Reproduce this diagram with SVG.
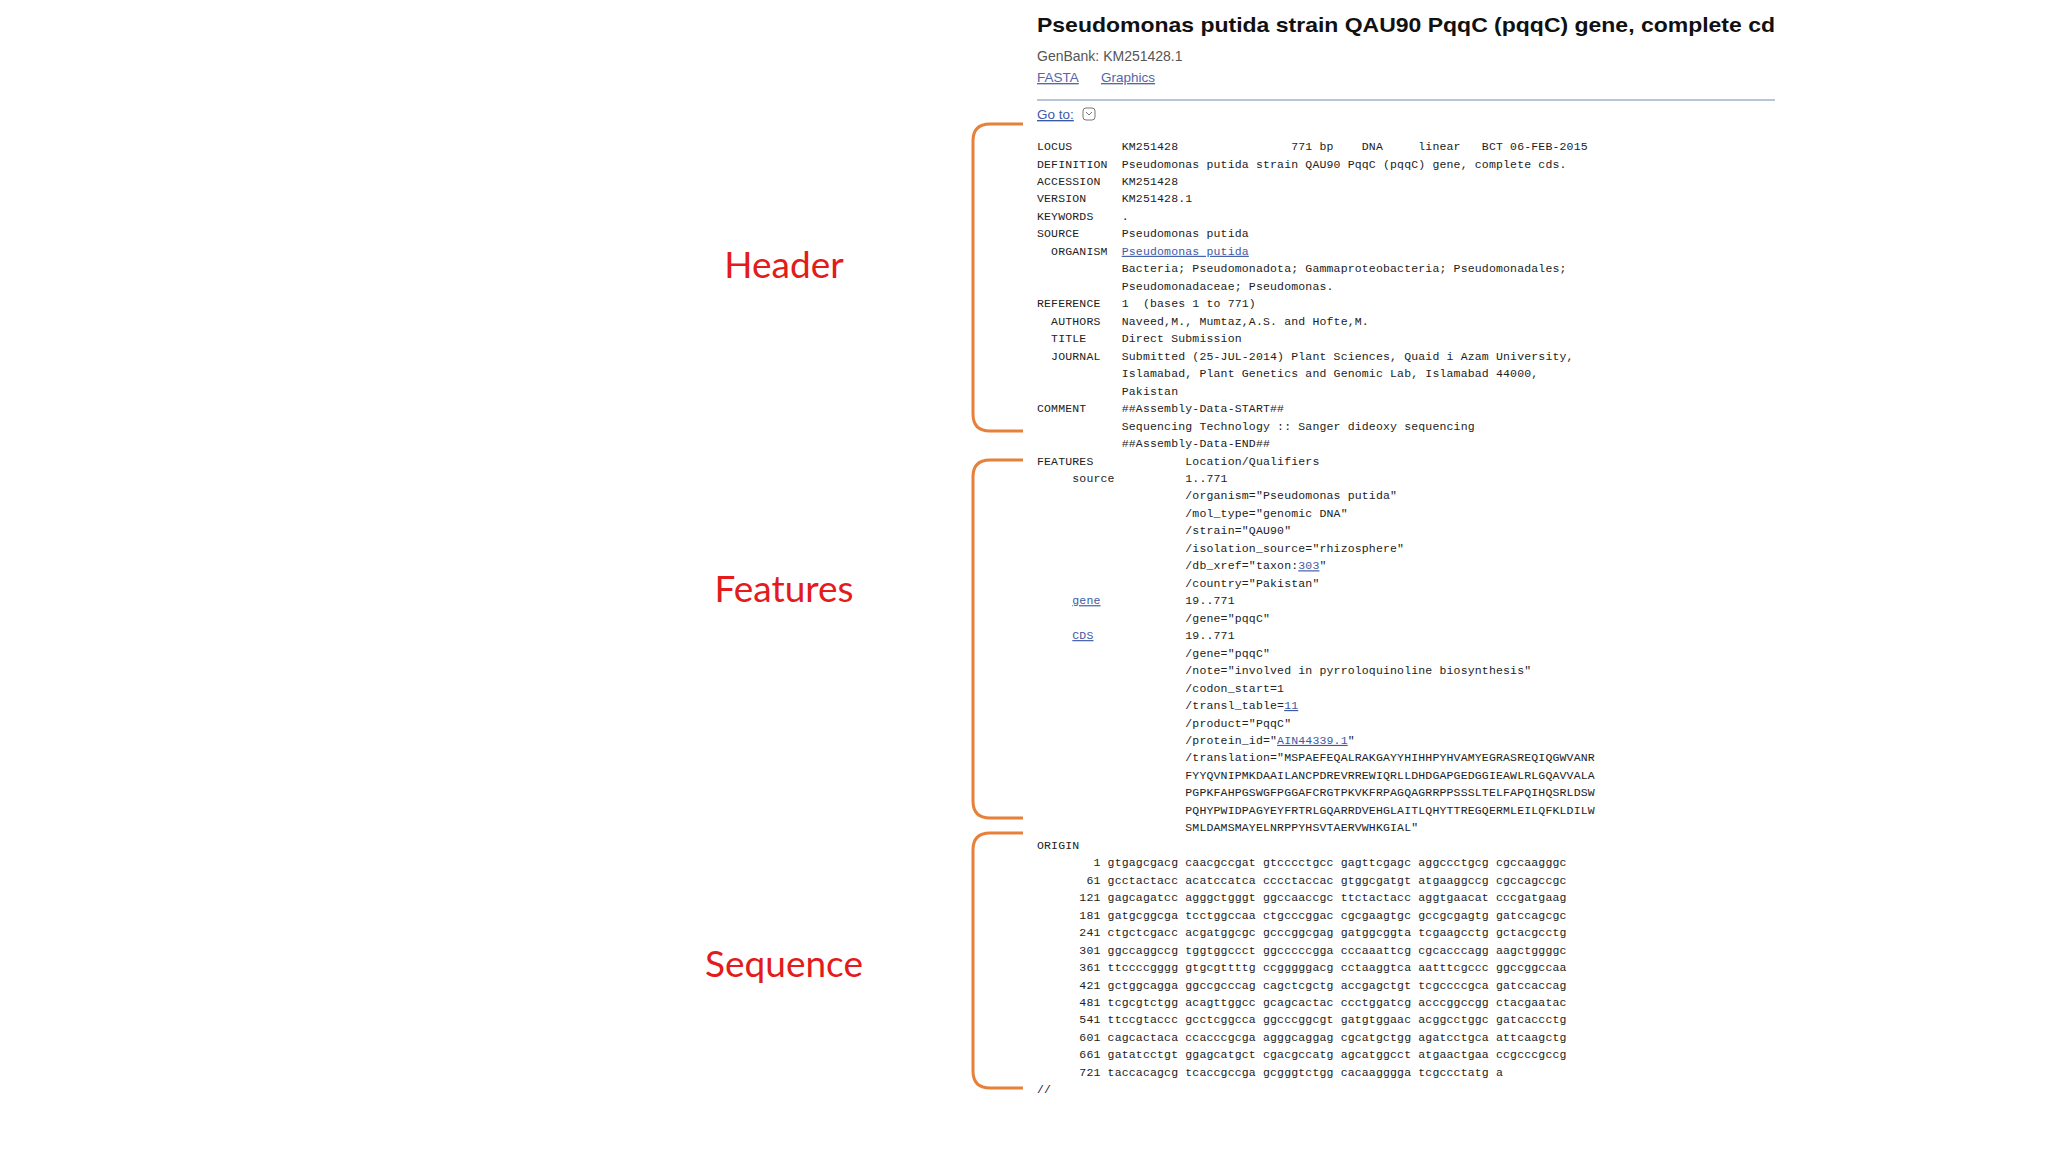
<svg xmlns="http://www.w3.org/2000/svg" width="2048" height="1152" viewBox="0 0 2048 1152" xml:space="preserve">
<style>
.m text{font-family:"Liberation Mono",monospace;font-size:11.5px;letter-spacing:0.16px;fill:#222;white-space:pre}
.l{fill:#3d5aa8;text-decoration:underline}
.lab{font-family:Lato,"Liberation Sans",sans-serif;font-size:37px;fill:#e31b1b;text-anchor:middle}
.br{fill:none;stroke:#e6803a;stroke-width:3}
</style>
<rect width="2048" height="1152" fill="#fff"/>
<g id="page">
<text x="1037" y="32" font-family="Liberation Sans,sans-serif" font-weight="bold" font-size="21" fill="#111" textLength="738" lengthAdjust="spacingAndGlyphs">Pseudomonas putida strain QAU90 PqqC (pqqC) gene, complete cd</text>
<text x="1037" y="61" font-family="Liberation Sans,sans-serif" font-size="14" fill="#555">GenBank: KM251428.1</text>
<text x="1037" y="82" font-family="Liberation Sans,sans-serif" font-size="13.5" fill="#5566aa" text-decoration="underline">FASTA</text>
<text x="1101" y="82" font-family="Liberation Sans,sans-serif" font-size="13.5" fill="#5566aa" text-decoration="underline">Graphics</text>
<line x1="1037" y1="100" x2="1775" y2="100" stroke="#9fb0cc" stroke-width="1.5"/>
<text x="1037" y="119" font-family="Liberation Sans,sans-serif" font-size="13.5" fill="#3d5aa8" text-decoration="underline">Go to:</text>
<rect x="1083" y="108" width="12" height="12" rx="3" fill="none" stroke="#777" stroke-width="1"/>
<path d="M1086 112 l3 3 3 -3" fill="none" stroke="#777" stroke-width="1"/>
</g>
<g id="record" class="m">
<text x="1037" y="150">LOCUS       KM251428                771 bp    DNA     linear   BCT 06-FEB-2015</text>
<text x="1037" y="167.5">DEFINITION  Pseudomonas putida strain QAU90 PqqC (pqqC) gene, complete cds.</text>
<text x="1037" y="185">ACCESSION   KM251428</text>
<text x="1037" y="202.4">VERSION     KM251428.1</text>
<text x="1037" y="219.9">KEYWORDS    .</text>
<text x="1037" y="237.4">SOURCE      Pseudomonas putida</text>
<text x="1037" y="254.8">  ORGANISM  <tspan class="l">Pseudomonas putida</tspan></text>
<text x="1037" y="272.3">            Bacteria; Pseudomonadota; Gammaproteobacteria; Pseudomonadales;</text>
<text x="1037" y="289.8">            Pseudomonadaceae; Pseudomonas.</text>
<text x="1037" y="307.2">REFERENCE   1  (bases 1 to 771)</text>
<text x="1037" y="324.7">  AUTHORS   Naveed,M., Mumtaz,A.S. and Hofte,M.</text>
<text x="1037" y="342.2">  TITLE     Direct Submission</text>
<text x="1037" y="359.6">  JOURNAL   Submitted (25-JUL-2014) Plant Sciences, Quaid i Azam University,</text>
<text x="1037" y="377.1">            Islamabad, Plant Genetics and Genomic Lab, Islamabad 44000,</text>
<text x="1037" y="394.6">            Pakistan</text>
<text x="1037" y="412">COMMENT     ##Assembly-Data-START##</text>
<text x="1037" y="429.5">            Sequencing Technology :: Sanger dideoxy sequencing</text>
<text x="1037" y="447">            ##Assembly-Data-END##</text>
<text x="1037" y="464.5">FEATURES             Location/Qualifiers</text>
<text x="1037" y="481.9">     source          1..771</text>
<text x="1037" y="499.4">                     /organism="Pseudomonas putida"</text>
<text x="1037" y="516.9">                     /mol_type="genomic DNA"</text>
<text x="1037" y="534.3">                     /strain="QAU90"</text>
<text x="1037" y="551.8">                     /isolation_source="rhizosphere"</text>
<text x="1037" y="569.3">                     /db_xref="taxon:<tspan class="l">303</tspan>"</text>
<text x="1037" y="586.7">                     /country="Pakistan"</text>
<text x="1037" y="604.2">     <tspan class="l">gene</tspan>            19..771</text>
<text x="1037" y="621.7">                     /gene="pqqC"</text>
<text x="1037" y="639.1">     <tspan class="l">CDS</tspan>             19..771</text>
<text x="1037" y="656.6">                     /gene="pqqC"</text>
<text x="1037" y="674.1">                     /note="involved in pyrroloquinoline biosynthesis"</text>
<text x="1037" y="691.5">                     /codon_start=1</text>
<text x="1037" y="709">                     /transl_table=<tspan class="l">11</tspan></text>
<text x="1037" y="726.5">                     /product="PqqC"</text>
<text x="1037" y="743.9">                     /protein_id="<tspan class="l">AIN44339.1</tspan>"</text>
<text x="1037" y="761.4">                     /translation="MSPAEFEQALRAKGAYYHIHHPYHVAMYEGRASREQIQGWVANR</text>
<text x="1037" y="778.9">                     FYYQVNIPMKDAAILANCPDREVRREWIQRLLDHDGAPGEDGGIEAWLRLGQAVVALA</text>
<text x="1037" y="796.3">                     PGPKFAHPGSWGFPGGAFCRGTPKVKFRPAGQAGRRPPSSSLTELFAPQIHQSRLDSW</text>
<text x="1037" y="813.8">                     PQHYPWIDPAGYEYFRTRLGQARRDVEHGLAITLQHYTTREGQERMLEILQFKLDILW</text>
<text x="1037" y="831.3">                     SMLDAMSMAYELNRPPYHSVTAERVWHKGIAL"</text>
<text x="1037" y="848.7">ORIGIN</text>
<text x="1037" y="866.2">        1 gtgagcgacg caacgccgat gtcccctgcc gagttcgagc aggccctgcg cgccaagggc</text>
<text x="1037" y="883.7">       61 gcctactacc acatccatca cccctaccac gtggcgatgt atgaaggccg cgccagccgc</text>
<text x="1037" y="901.1">      121 gagcagatcc agggctgggt ggccaaccgc ttctactacc aggtgaacat cccgatgaag</text>
<text x="1037" y="918.6">      181 gatgcggcga tcctggccaa ctgcccggac cgcgaagtgc gccgcgagtg gatccagcgc</text>
<text x="1037" y="936.1">      241 ctgctcgacc acgatggcgc gcccggcgag gatggcggta tcgaagcctg gctacgcctg</text>
<text x="1037" y="953.5">      301 ggccaggccg tggtggccct ggcccccgga cccaaattcg cgcacccagg aagctggggc</text>
<text x="1037" y="971">      361 ttccccgggg gtgcgttttg ccgggggacg cctaaggtca aatttcgccc ggccggccaa</text>
<text x="1037" y="988.5">      421 gctggcagga ggccgcccag cagctcgctg accgagctgt tcgccccgca gatccaccag</text>
<text x="1037" y="1005.9">      481 tcgcgtctgg acagttggcc gcagcactac ccctggatcg acccggccgg ctacgaatac</text>
<text x="1037" y="1023.4">      541 ttccgtaccc gcctcggcca ggcccggcgt gatgtggaac acggcctggc gatcaccctg</text>
<text x="1037" y="1040.9">      601 cagcactaca ccacccgcga agggcaggag cgcatgctgg agatcctgca attcaagctg</text>
<text x="1037" y="1058.3">      661 gatatcctgt ggagcatgct cgacgccatg agcatggcct atgaactgaa ccgcccgccg</text>
<text x="1037" y="1075.8">      721 taccacagcg tcaccgccga gcgggtctgg cacaagggga tcgccctatg a</text>
<text x="1037" y="1093.3">//</text>
</g>
<g id="connectors">
<path class="br" d="M1023 124 H990 Q973 124 973 141 V414 Q973 431 990 431 H1023"/>
<path class="br" d="M1023 460 H990 Q973 460 973 477 V801 Q973 818 990 818 H1023"/>
<path class="br" d="M1023 833 H990 Q973 833 973 850 V1071 Q973 1088 990 1088 H1023"/>
</g>
<g id="header"><text class="lab" x="784" y="278">Header</text></g>
<g id="features"><text class="lab" x="784" y="602">Features</text></g>
<g id="sequence"><text class="lab" x="784" y="977">Sequence</text></g>
</svg>
